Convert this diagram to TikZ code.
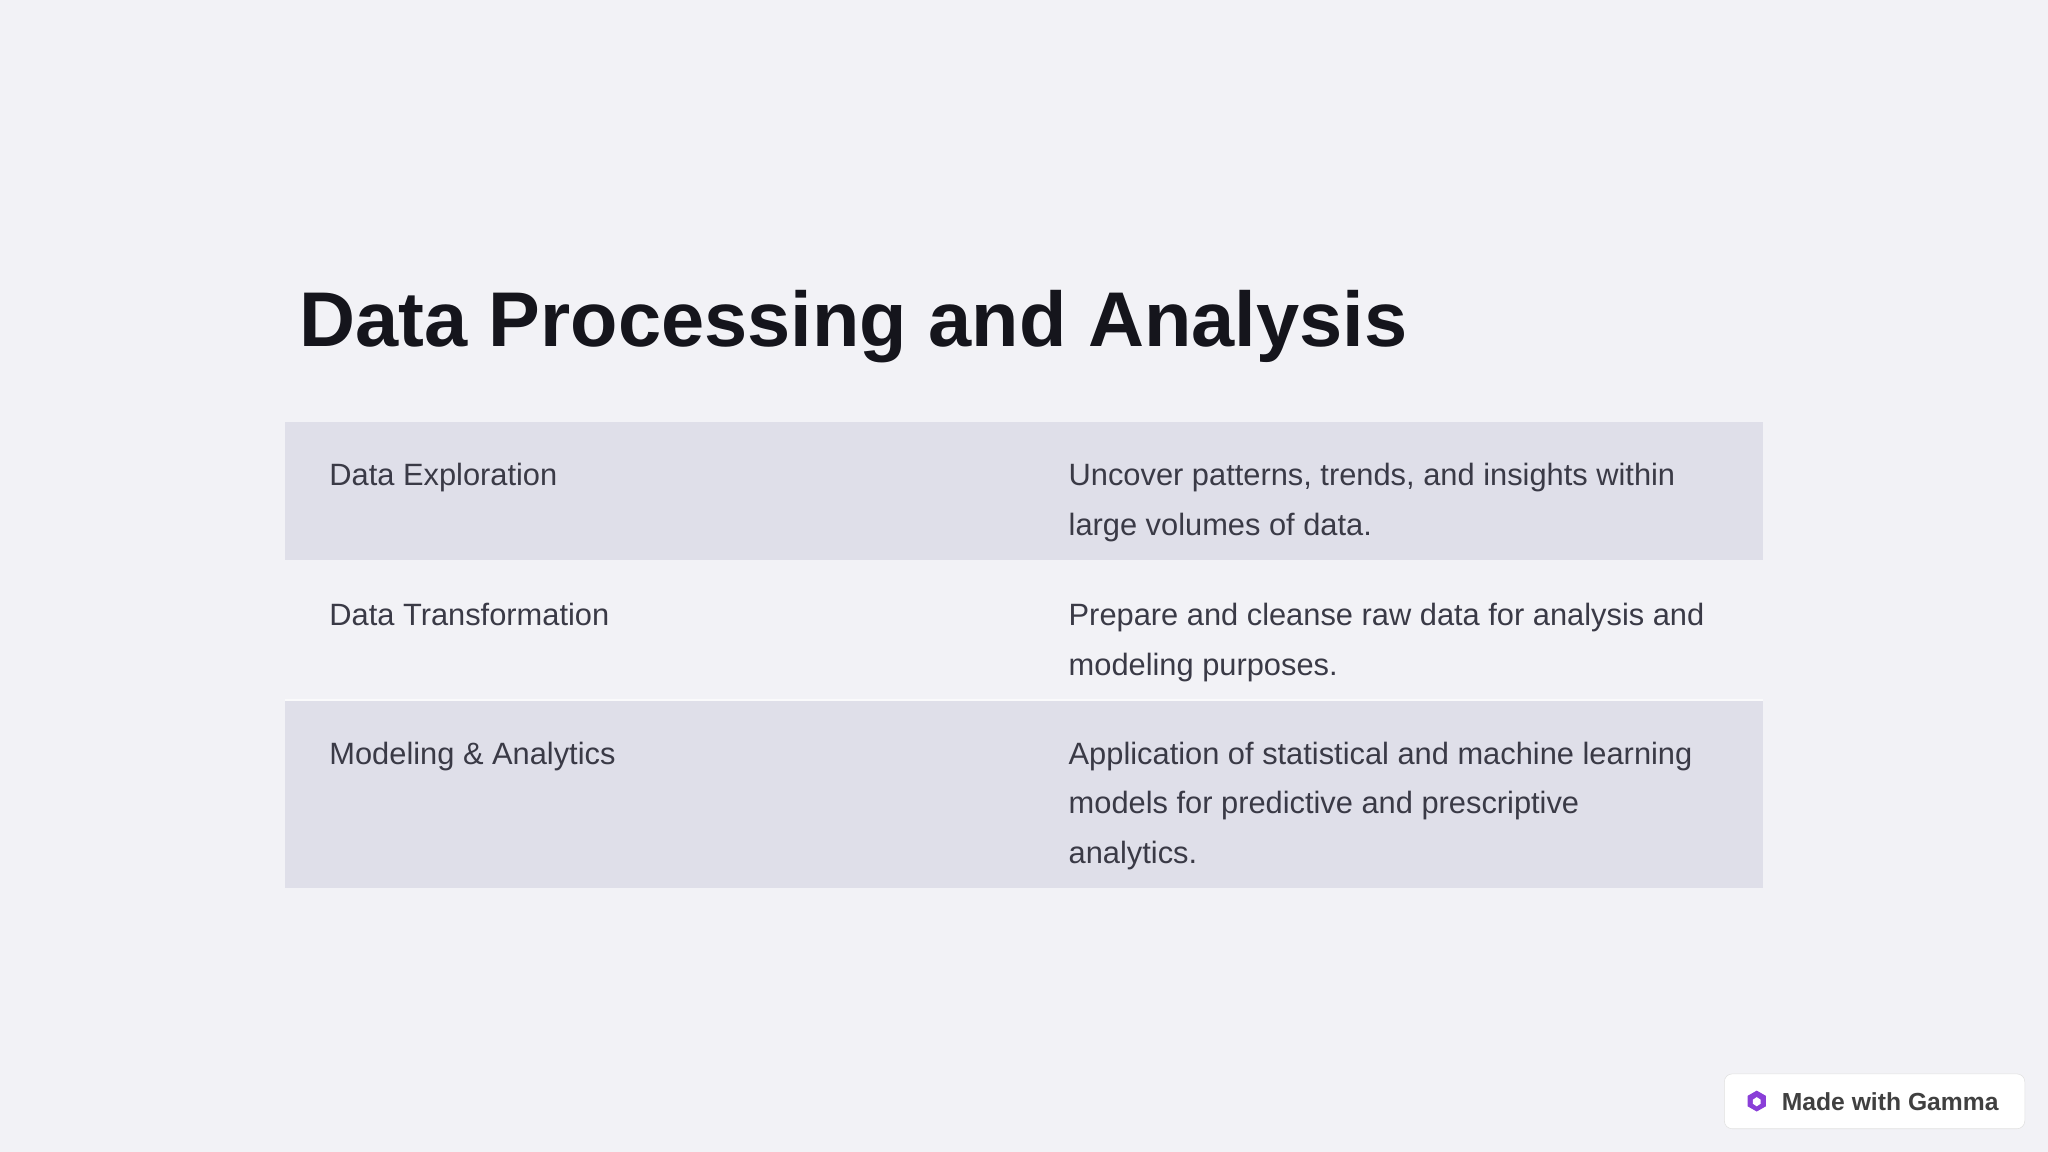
\documentclass[tikz,border=0pt]{standalone}
\usepackage{fontspec}
\setmainfont{Liberation Sans}
\definecolor{bg}{HTML}{F2F2F6}
\definecolor{rowA}{HTML}{DFDFE9}
\definecolor{txt}{HTML}{3A3A46}
\definecolor{ttl}{HTML}{15151C}
\definecolor{gpurple}{HTML}{8A3FD8}
\begin{document}
\begin{tikzpicture}[x=1pt,y=-1pt,
  cell/.style={anchor=base west,align=left,inner sep=0pt,text=txt,font=\fontsize{23.6}{38}\selectfont},
]
\useasboundingbox (0,0) rectangle (1568,882);
\fill[bg] (0,0) rectangle (1568,882);
\node[anchor=base west,inner sep=0pt,text=ttl,font=\fontsize{59.4}{66}\selectfont\bfseries] (title) at (229,265) {Data Processing and Analysis};
\fill[rowA] (218,323) rectangle (1350,429);
\fill[rowA] (218,536) rectangle (1350,680);
\draw[white!60!bg,line width=1pt] (218,536) -- (1350,536);
\node[cell] (l1) at (252,372) {Data Exploration};
\node[cell] (r1) at (818,410) {Uncover patterns, trends, and insights within\\large volumes of data.};
\node[cell] (l2) at (252,479) {Data Transformation};
\node[cell] (r2) at (818,517) {Prepare and cleanse raw data for analysis and\\modeling purposes.};
\node[cell] (l3) at (252,585) {Modeling \& Analytics};
\node[cell] (r3) at (818,661) {Application of statistical and machine learning\\models for predictive and prescriptive\\analytics.};
\node[draw=black!12,fill=white,rounded corners=6pt,minimum width=230pt,minimum height=42pt,anchor=north west] (badge) at (1320,822) {};
\fill[gpurple] (1345,835) -- (1352,839) -- (1352,847) -- (1345,851) -- (1338,847) -- (1338,839) -- cycle;
\fill[white] (1345,840) -- (1348,842) -- (1348,845) -- (1345,847) -- (1342,845) -- (1342,842) -- cycle;
\node[anchor=base west,inner sep=0pt,text=black!75,font=\fontsize{18.9}{20}\selectfont\bfseries] (bt) at (1364,850) {Made with Gamma};
\end{tikzpicture}
\end{document}
